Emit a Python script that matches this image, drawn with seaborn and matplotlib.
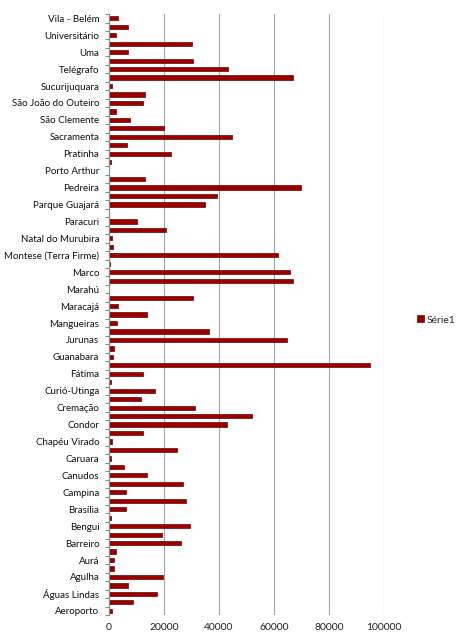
import matplotlib

matplotlib.use('Agg')
import matplotlib.pyplot as plt
import seaborn as sns
import pandas as pd

# bairros, de baixo para cima (ordem alfabética do Excel)
bairros = [
    "Aeroporto", "Água Boa", "Águas Lindas", "Águas Negras", "Agulha",
    "Ariramba", "Aurá", "Baía do Sol", "Barreiro", "Batista Campos",
    "Bengui", "Bonfim", "Brasília", "Cabanagem", "Campina",
    "Campina de Icoaraci", "Canudos", "Carananduba", "Caruara", "Castanheira",
    "Chapéu Virado", "Cidade Velha", "Condor", "Coqueiro", "Cremação",
    "Cruzeiro", "Curió-Utinga", "Farol", "Fátima", "Guamá",
    "Guanabara", "Itaiteua", "Jurunas", "Mangueirão", "Mangueiras",
    "Maracacuera", "Maracajá", "Maracangalha", "Marahú", "Marambaia",
    "Marco", "Miramar", "Montese (Terra Firme)", "Murubira", "Natal do Murubira",
    "Nazaré", "Paracuri", "Paraíso", "Parque Guajará", "Parque Verde",
    "Pedreira", "Ponta Grossa", "Porto Arthur", "Praia Grande", "Pratinha",
    "Reduto", "Sacramenta", "São Brás", "São Clemente", "São Francisco",
    "São João do Outeiro", "Souza", "Sucurijuquara", "Tapanã", "Telégrafo",
    "Tenoné", "Uma", "Umarizal", "Universitário", "Val-de-Cães",
    "Vila - Belém",
]
serie1 = [
    1100, 8600, 17600, 6800, 19700,
    1800, 1800, 2400, 26100, 19200,
    29400, 700, 6100, 28000, 6100,
    26900, 13900, 5300, 700, 24600,
    1100, 12200, 42800, 51800, 31200,
    11700, 16700, 600, 12400, 94700,
    1500, 1800, 64600, 36200, 2900,
    13700, 3300, 30500, 100, 66900,
    65900, 400, 61500, 1500, 1100,
    20700, 10100, 150, 34800, 39300,
    69700, 13200, 100, 700, 22500,
    6600, 44600, 19900, 7700, 2400,
    12200, 13200, 1200, 66900, 43200,
    30500, 6800, 30200, 2500, 6900,
    3200,
]
x_ticks = [0, 20000, 40000, 60000, 80000, 100000]

df = pd.DataFrame({"Bairro": bairros, "Série1": serie1})

sns.set_style("white")
plt.rcParams['font.family'] = ['Lato', 'DejaVu Sans']

fig = plt.figure(figsize=(4.6, 6.4), dpi=100)
ax = fig.add_axes([0.237, 0.039, 0.598, 0.939])

ordem = bairros[::-1]
sns.barplot(data=df, x="Série1", y="Bairro", order=ordem, color="#990000",
            width=0.5, orient="h", label="Série1", ax=ax, saturation=1,
            edgecolor="#700000", linewidth=0.5)

ax.set_xlim(0, 100000)
ax.set_ylim(len(ordem) - 0.5, -0.5)
ax.set_xticks(x_ticks)
ax.set_xticklabels([str(v) for v in x_ticks], fontsize=7.5, color="#222222")
ax.set_xlabel("")
ax.set_ylabel("")

# rótulo em uma categoria sim, outra não
pos = list(range(0, len(ordem), 2))
ax.set_yticks(pos)
ax.set_yticklabels([ordem[i] for i in pos], fontsize=7, color="#111111")
ax.set_yticks([i + 0.5 for i in range(-1, len(ordem))], minor=True)
ax.tick_params(axis="y", which="major", length=0, pad=7)
ax.tick_params(axis="y", which="minor", length=3, color="#888888", width=0.8, direction="out", left=True)
ax.tick_params(axis="x", length=0, pad=6)

ax.grid(axis="x", color="#a6a6a6", linewidth=0.8)
ax.set_axisbelow(True)
for s in ["top", "right", "bottom"]:
    ax.spines[s].set_visible(False)
ax.spines["left"].set_color("#888888")
ax.spines["left"].set_linewidth(0.8)

ax.legend(loc="center left", bbox_to_anchor=(0.896, 0.5), bbox_transform=fig.transFigure,
          frameon=False, fontsize=7.5, handlelength=0.65, handleheight=0.65, handletextpad=0.2,
          borderpad=0)

fig.savefig("out.png", dpi=100)
